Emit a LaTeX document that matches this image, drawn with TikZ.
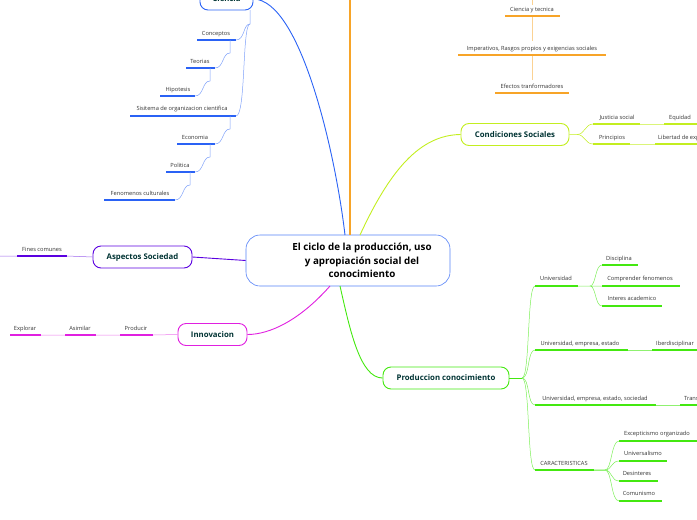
\documentclass[tikz,border=0pt]{standalone}
\usepackage{fontspec}
\setmainfont{Open Sans}
\begin{document}
\begin{tikzpicture}[x=1pt,y=-1pt,
  leaf/.style={font=\fontsize{5.7}{6}\selectfont,text=black!80,inner sep=0pt,anchor=base},
  main/.style={draw,line width=0.9pt,rounded corners=8pt,minimum height=22pt,inner xsep=6pt,font=\fontsize{7.8}{9}\bfseries\selectfont,text=teal!40!black},
  ul/.style={line width=1.3pt},
  br/.style={line width=0.5pt}]
\useasboundingbox (0,0) rectangle (697,520);
\definecolor{cb}{HTML}{2A62F5}\definecolor{co}{HTML}{F7A428}\definecolor{cy}{HTML}{C3EE20}
\definecolor{cp}{HTML}{5A00E0}\definecolor{cmag}{HTML}{E020E0}\definecolor{cg}{HTML}{44E810}
% central
\node[draw=cb!80,line width=0.6pt,rounded corners=14pt,minimum width=204pt,minimum height=51pt] (c) at (348,260.5) {};
\node[align=center,font=\fontsize{9.8}{13.5}\selectfont,text=black] (ct) at (362,260.5) {\textbf{El ciclo de la producción, uso}\\\textbf{y apropiación social del}\\\textbf{conocimiento}};
% Ciencia
\node[main,draw=cb,minimum width=53pt] (ci) at (226.5,-1) {Ciencia};
\draw[cb,line width=0.9pt] (ci.east) .. controls (300,0) and (335,150) .. (345,235);
% orange
\coordinate (ot) at (350,0);
\draw[co,line width=1.2pt] (ot) -- (350,235);
\node[leaf] (o1) at (532,11) {Ciencia y tecnica};
\node[leaf] (o2) at (532,50) {Imperativos, Rasgos propios y exigencias sociales};
\node[leaf] (o3) at (532,88) {Efectos tranformadores};
\draw[co,ul] (505,16)--(560,16); \draw[co,ul] (458,55)--(606,55); \draw[co,ul] (495,93)--(569,93);
\draw[co!50,br] (532,0)--(532,5) (532,17)--(532,41) (532,56)--(532,80);
% condiciones
\node[main,draw=cy,minimum width=108pt] (cs) at (515,134.5) {Condiciones Sociales};
\draw[cy,line width=0.9pt] (360,235) .. controls (390,170) and (420,135) .. (cs.west);
\node[leaf] at (617,119) {Justicia social}; \node[leaf] at (680,119) {Equidad};
\node[leaf] at (612,139) {Principios}; \node[leaf,anchor=base west] at (658,139) {Libertad de expresión};
\draw[cy,ul] (593,124)--(640,124) (664,124)--(697,124) (593,144)--(630,144) (655,144)--(697,144);
\draw[cy,br] (cs.east)--(577,134.5) .. controls (585,134.5) and (585,124) .. (593,124);
\draw[cy,br] (577,134.5) .. controls (585,134.5) and (585,144) .. (593,144);
\draw[cy!60,br] (640,124)--(664,124) (630,144)--(655,144);
% aspectos
\node[main,draw=cp,minimum width=99pt] (as) at (142.5,257) {Aspectos Sociedad};
\draw[cp,line width=0.9pt] (as.east)--(c.west);
\node[leaf] at (42,251) {Fines comunes};
\draw[cp,ul] (17,256)--(67,256); \draw[cp!60,br] (0,256)--(17,256) (67,256)--(as.west);
% innovacion
\node[main,draw=cmag,minimum width=69pt] (in) at (212.5,334.5) {Innovacion};
\draw[cmag,line width=0.9pt] (330,286) .. controls (300,320) and (270,334.5) .. (in.east);
\node[leaf] at (136,330) {Producir}; \node[leaf] at (80,330) {Asimilar}; \node[leaf] at (25,330) {Explorar};
\draw[cmag,ul] (120,335)--(153,335) (65,335)--(96,335) (10,335)--(41,335);
\draw[cmag!60,br] (in.west)--(153,335) (120,335)--(96,335) (65,335)--(41,335);
% produccion
\node[main,draw=cg,minimum width=126pt] (pc) at (446,378) {Produccion conocimiento};
\draw[cg,line width=0.9pt] (340,286) .. controls (350,330) and (360,378) .. (pc.west);
\coordinate (pb) at (522,378);
\draw[cg,br] (pc.east)--(pb);
\foreach \y in {286,350,405,470} \draw[cg!70,br] (pb) .. controls (530,378) and (527,\y) .. (535,\y);
\node[leaf] at (556,280) {Universidad};
\node[leaf] at (580,345) {Universidad, empresa, estado}; \node[leaf] at (675,345) {Iberdisciplinar};
\node[leaf] at (595,400) {Universidad, empresa, estado, sociedad}; \node[leaf,anchor=base west] at (684,400) {Transdisciplinar};
\node[leaf] at (564,465) {CARACTERISTICAS};
\draw[cg,ul] (535,286)--(578,286) (535,350)--(628,350) (652,350)--(697,350) (535,405)--(656,405) (680,405)--(697,405) (535,470)--(594,470);
\draw[cg!60,br] (628,350)--(652,350) (656,405)--(680,405);
\node[leaf] at (619,260) {Disciplina}; \node[leaf] at (640,280) {Comprender fenomenos}; \node[leaf] at (632,300) {Interes academico};
\draw[cg,ul] (602,265)--(638,265) (602,286)--(680,286) (602,306)--(662,306);
\draw[cg!70,br] (578,286)--(590,286) .. controls (596,286) and (595,265) .. (602,265);
\draw[cg!70,br] (590,286)--(602,286) (590,286) .. controls (596,286) and (595,306) .. (602,306);
\node[leaf] at (657,435) {Excepticismo organizado}; \node[leaf] at (643,455) {Universalismo};
\node[leaf] at (637,475) {Desinteres}; \node[leaf] at (639,495) {Comunismo};
\draw[cg,ul] (619,441)--(697,441) (619,461)--(667,461) (619,481)--(658,481) (619,501)--(662,501);
\foreach \y in {441,461,481,501} \draw[cg!70,br] (594,470)--(605,470) .. controls (612,470) and (611,\y) .. (619,\y);
% ciencia children
\node[leaf] at (216,35) {Conceptos}; \node[leaf] at (200,63) {Teorias}; \node[leaf] at (178,91) {Hipotesis};
\node[leaf] at (182,110) {Sisitema de organizacion cientifica};
\node[leaf] at (195,139) {Economia}; \node[leaf] at (180,167) {Politica}; \node[leaf] at (140,195) {Fenomenos culturales};
\draw[cb,ul] (197,40)--(236,40) (186,68)--(215,68) (160,96)--(195,96) (130,116)--(236,116) (177,144)--(215,144) (166,172)--(195,172) (104,200)--(175,200);
\begin{scope}[cb!60,br]
\draw (250,10)--(250,24) .. controls (243,24) and (245,40) .. (236,40);
\draw (250,24) .. controls (242,24) and (246,116) .. (236,116);
\draw (230,40)--(230,53) .. controls (222,53) and (224,68) .. (215,68);
\draw (210,68)--(210,81) .. controls (202,81) and (204,96) .. (195,96);
\draw (230,116)--(230,129) .. controls (222,129) and (224,144) .. (215,144);
\draw (210,144)--(210,157) .. controls (202,157) and (204,172) .. (195,172);
\draw (190,172)--(190,185) .. controls (182,185) and (184,200) .. (175,200);
\end{scope}
\end{tikzpicture}
\end{document}
